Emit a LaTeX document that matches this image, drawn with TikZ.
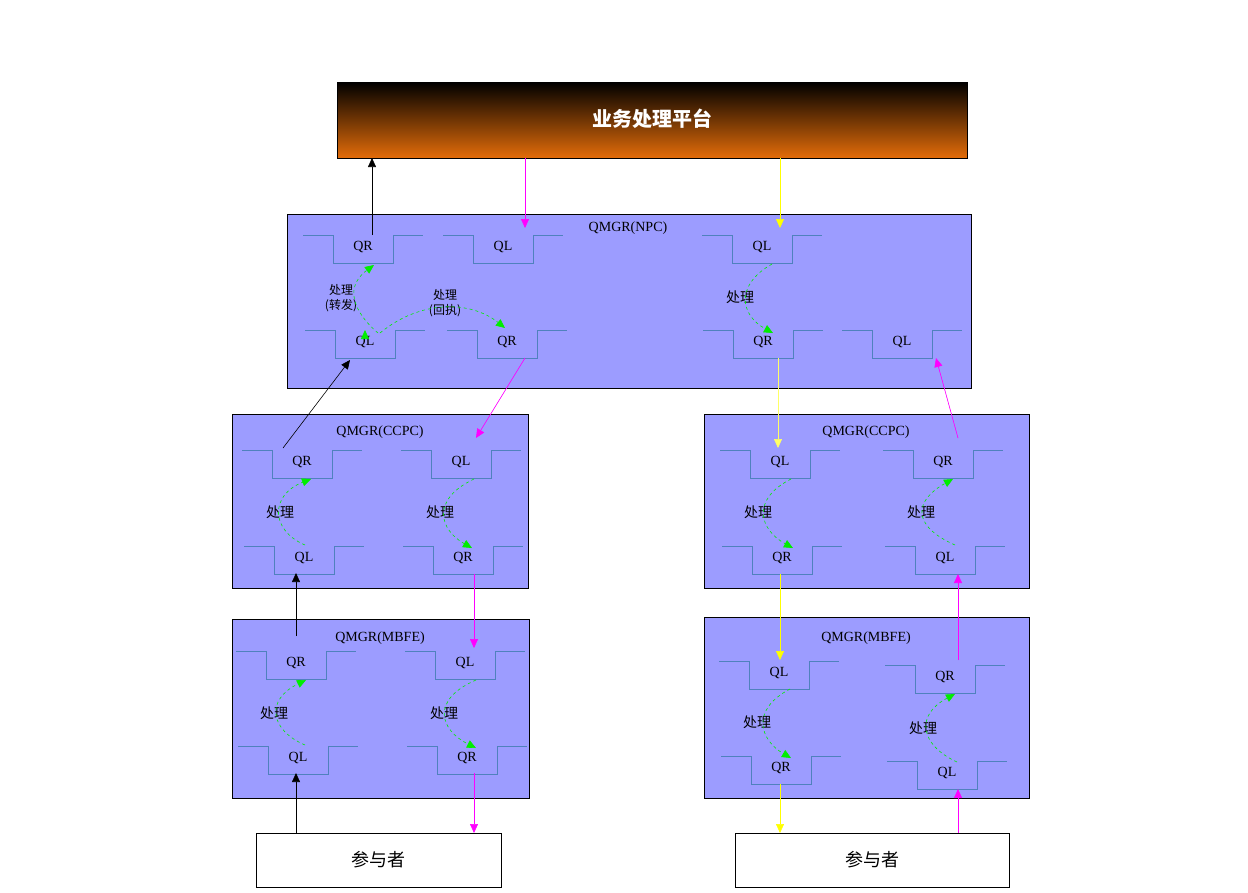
\documentclass[tikz,border=0pt]{standalone}
\usepackage{fontspec}
\setmainfont{Liberation Serif}
\newfontfamily\cjk{Noto Sans CJK SC}
\usetikzlibrary{arrows.meta}
\definecolor{boxc}{HTML}{9C9CFF}
\definecolor{ql}{HTML}{4F81BD}
\definecolor{mag}{HTML}{FF00FF}
\definecolor{yel}{HTML}{FFFF00}
\definecolor{grn}{HTML}{00EE00}
\definecolor{orng}{HTML}{E36C09}
\tikzset{
 mgr/.style={draw=black,line width=1pt,fill=boxc},
 qline/.style={draw=ql,line width=0.8pt},
 qtext/.style={font=\fontsize{14}{14}\selectfont},
 ttl/.style={font=\fontsize{14}{14}\selectfont},
 lab/.style={font=\cjk\fontsize{14}{16}\selectfont,align=center,inner sep=1pt},
 tip/.style={-{Triangle[length=9pt,width=8pt]}},
 ba/.style={tip,draw=black,line width=0.6pt},
 ma/.style={tip,draw=mag,fill=mag,line width=0.6pt},
 ya/.style={tip,draw=yel,fill=yel,line width=0.6pt},
 gd/.style={tip,draw=grn,dashed,line width=0.6pt},
 plain/.style={draw=black,line width=0.8pt,fill=white},
}
\newcommand\qq[4]{%
 \draw[qline] ({#2-60},#3) -- ({#2-30},#3) -- ({#2-30},{#3+28}) -- ({#2+30},{#3+28}) -- ({#2+30},#3) -- ({#2+60},#3);
 \node[qtext] (#1) at (#2,{#3+12}) {#4};
 \coordinate (#1t) at (#2,#3);
 \coordinate (#1b) at (#2,{#3+28});}
\begin{document}
\begin{tikzpicture}[x=1pt,y=-1pt]
\useasboundingbox (0,0) rectangle (1248,892);
% platform
\shade[top color=black,bottom color=orng] (337,82) rectangle (967,158);
\draw[line width=0.8pt] (337,82) rectangle (967,158);
\node[font=\cjk\fontsize{20}{20}\selectfont\bfseries,text=white] (plat) at (652,119) {业务处理平台};
\coordinate (platL) at (372,158); \coordinate (platM) at (525,158); \coordinate (platR) at (780,158);
% boxes
\draw[mgr] (287,214) rectangle (971,388);
\node[ttl] (tn) at (628,228) {QMGR(NPC)};
\draw[mgr] (232,414) rectangle (528,588);
\node[ttl] (tc1) at (380,432) {QMGR(CCPC)};
\draw[mgr] (704,414) rectangle (1029,588);
\node[ttl] (tc2) at (866,432) {QMGR(CCPC)};
\draw[mgr] (232,619) rectangle (529,798);
\node[ttl] (tm1) at (380,638) {QMGR(MBFE)};
\draw[mgr] (704,617) rectangle (1029,798);
\node[ttl] (tm2) at (866,638) {QMGR(MBFE)};
\draw[plain] (256,833) rectangle (501,887);
\node[font=\cjk\fontsize{18}{18}\selectfont] (p1) at (378,860) {参与者};
\draw[plain] (735,833) rectangle (1009,887);
\node[font=\cjk\fontsize{18}{18}\selectfont] (p2) at (872,860) {参与者};
\coordinate (p1L) at (296,833); \coordinate (p1R) at (474,833);
\coordinate (p2L) at (780,833); \coordinate (p2R) at (958,833);
% queues NPC
\qq{n1}{363}{235}{QR}
\qq{n2}{503}{235}{QL}
\qq{n3}{762}{235}{QL}
\qq{n4}{365}{330}{QL}
\qq{n5}{507}{330}{QR}
\qq{n6}{763}{330}{QR}
\qq{n7}{902}{330}{QL}
% CCPC
\qq{a1}{302}{450}{QR}
\qq{a2}{461}{450}{QL}
\qq{a3}{304}{546}{QL}
\qq{a4}{463}{546}{QR}
\qq{b1}{780}{450}{QL}
\qq{b2}{943}{450}{QR}
\qq{b3}{782}{546}{QR}
\qq{b4}{945}{546}{QL}
% MBFE
\qq{c1}{296}{651}{QR}
\qq{c2}{465}{651}{QL}
\qq{c3}{298}{746}{QL}
\qq{c4}{467}{746}{QR}
\qq{d1}{779}{661}{QL}
\qq{d2}{945}{665}{QR}
\qq{d3}{781}{756}{QR}
\qq{d4}{947}{761}{QL}
% labels
\node[lab,font=\cjk\fontsize{12}{15}\selectfont] (l1) at (341,298) {处理\\(转发)};
\node[lab,font=\cjk\fontsize{12}{15}\selectfont] (l2) at (445,303) {处理\\(回执)};
\node[lab] (l3) at (740,297) {处理};
\node[lab] (l4) at (280,512) {处理};
\node[lab] (l5) at (440,512) {处理};
\node[lab] (l6) at (758,512) {处理};
\node[lab] (l7) at (921,512) {处理};
\node[lab] (l8) at (274,713) {处理};
\node[lab] (l9) at (444,713) {处理};
\node[lab] (l10) at (757,722) {处理};
\node[lab] (l11) at (923,728) {处理};
% green dashed
\draw[gd] (378,333) .. controls (360,318) and (340,290) .. (374,265);
\draw[gd] (380,333) .. controls (420,300) and (470,300) .. (505,328);
\draw[gd] (772,264) .. controls (735,285) and (740,315) .. (773,333);
\draw[gd] (n4t) ++(0,0) coordinate (dummy);
\draw[gd] (305,545) .. controls (270,530) and (270,495) .. (311,479);
\draw[gd] (474,479) .. controls (430,500) and (440,530) .. (472,548);
\draw[gd] (791,479) .. controls (750,500) and (760,530) .. (793,548);
\draw[gd] (955,545) .. controls (910,525) and (915,500) .. (953,479);
\draw[gd] (305,745) .. controls (270,730) and (265,700) .. (306,680);
\draw[gd] (476,680) .. controls (430,700) and (440,730) .. (476,748);
\draw[gd] (790,689) .. controls (750,710) and (760,740) .. (791,758);
\draw[gd] (957,762) .. controls (920,745) and (915,715) .. (955,694);
% connectors
\draw[ba] (n1t) ++(9,0) -- (platL);
\draw[ma] (platM) -- (525,228);
\draw[ya] (platR) -- (780,228);
\draw[ba] (283,448) -- (350,360);
\draw[ma] (525,358) -- (476,438);
\draw[ya,draw=yel!60!white] (778,358) -- (778,448);
\draw[ma] (958,438) -- (936,358);
\draw[ba] (296,636) -- (296,573);
\draw[ma] (474,574) -- (474,648);
\draw[ba] (p1L) -- (296,773);
\draw[ma] (474,773) -- (p1R);
\draw[ya] (780,574) -- (780,660);
\draw[ma] (958,660) -- (958,574);
\draw[ya] (780,784) -- (p2L);
\draw[ma] (p2R) -- (958,789);
\end{tikzpicture}
\end{document}
